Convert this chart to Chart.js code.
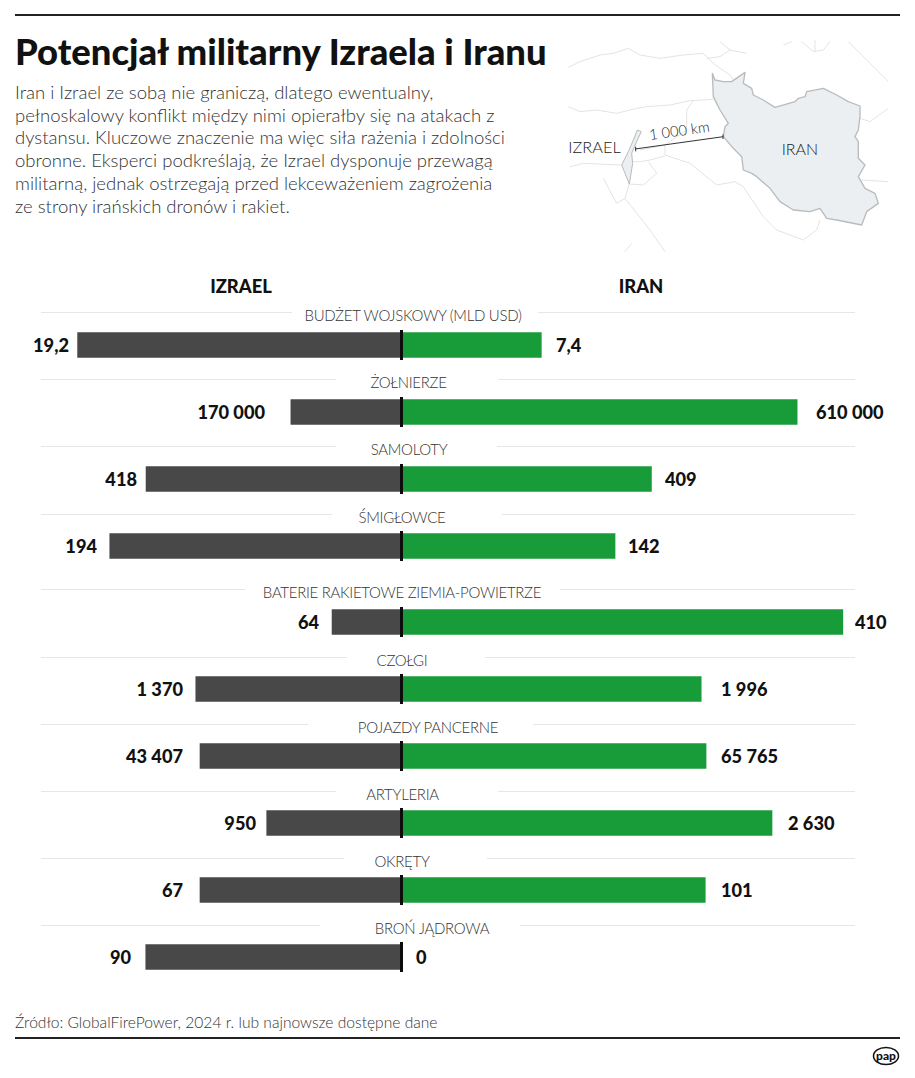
<!DOCTYPE html>
<html lang="pl">
<head>
<meta charset="utf-8">
<title>Potencjał militarny Izraela i Iranu</title>
<script src="https://cdn.jsdelivr.net/npm/chart.js@4"></script>
<style>
    html, body { margin: 0; background: #fff; }
    #page { position: relative; width: 915px; height: 1078px; overflow: hidden; font-family: Lato, sans-serif; color: #333; }
    #page > * { position: absolute; white-space: nowrap; }
    .rule { height: 1px; background: #e6e6e6; }
    .black-rule { left: 15px; width: 885px; height: 2px; background: #222; }
    #title { left: 15px; top: 30px; font-size: 36.4px; line-height: 42px; font-weight: 900; color: #111; }
    #lead { left: 15px; top: 81px; font-size: 18.5px; line-height: 22.7px; font-weight: 300; }
    .column { top: 274px; font-size: 18.4px; line-height: 24px; font-weight: 900; color: #111; transform: translateX(-50%); }
    .cat { font-size: 15px; line-height: 20px; font-weight: 300; letter-spacing: -0.3px; transform: translateX(-50%); }
    .val { font-size: 18.2px; line-height: 24px; font-weight: 900; color: #111; }
    #source { left: 15px; top: 1012px; font-size: 15.6px; line-height: 20px; font-weight: 300; }
    canvas { position: absolute; left: 0; }
    svg { position: absolute; }
</style>
</head>
<body>
<div id="page">
    <div class="black-rule" style="top:14px"></div>
    <div id="title">Potencjał militarny Izraela i Iranu</div>
    <div id="lead">Iran i Izrael ze sobą nie graniczą, dlatego ewentualny,<br>pełnoskalowy konflikt między nimi opierałby się na atakach z<br>dystansu. Kluczowe znaczenie ma więc siła rażenia i zdolności<br>obronne. Eksperci podkreślają, że Izrael dysponuje przewagą<br>militarną, jednak ostrzegają przed lekceważeniem zagrożenia<br>ze strony irańskich dronów i rakiet.</div>

    <!-- mapa -->
    <svg style="left:550px;top:30px" width="365" height="230" viewBox="0 0 1095 690" fill="none" font-family="Lato, sans-serif" font-weight="300">
        <g stroke="#dcdfdf" stroke-width="2.5" stroke-linejoin="round">
            <polyline points="55,112 90,95 150,75 190,70 235,55 270,75 330,85 400,75 460,70 490,100 510,115 540,135 550,150"/>
            <polyline points="510,35 540,60 510,80 470,85"/>
            <polyline points="540,60 590,70"/>
            <polyline points="55,230 90,245 140,240 200,250 260,235 290,230 360,225 420,212 490,208"/>
            <polyline points="430,212 410,240 410,300 345,345 270,360"/>
            <polyline points="345,345 345,375 420,400 500,465 555,455 580,470 640,560 680,600 760,630 800,600 810,570"/>
            <polyline points="60,410 100,400 215,405"/>
            <polyline points="240,395 270,395 300,390 345,378"/>
            <polyline points="295,395 320,430 280,465 238,462"/>
            <polyline points="160,445 200,520 225,505 238,462"/>
            <polyline points="225,505 300,600 345,665"/>
            <polyline points="225,665 245,640"/>
            <polyline points="895,35 950,90 1015,155"/>
            <polyline points="700,45 725,35"/>
            <polyline points="755,35 790,65 820,60 840,35"/>
            <polyline points="795,30 795,65"/>
            <polyline points="930,265 960,275 1015,235"/>
            <polyline points="935,450 1015,455"/>
        </g>
        <polygon fill="#ebeff1" stroke="#b9bcbd" stroke-width="4" stroke-linejoin="round" points="487,130 495,150 520,155 545,155 585,127 580,160 605,175 610,195 640,210 675,232 735,215 745,205 765,200 770,185 820,175 860,195 895,215 930,228 930,260 925,300 915,320 925,335 925,385 945,405 925,440 945,475 975,490 985,520 950,545 935,585 860,570 830,565 810,535 780,545 730,540 690,515 660,475 620,440 605,430 580,420 575,380 550,355 520,320 525,290 535,280 510,240 500,220 490,200"/>
        <polygon fill="#ebeff1" stroke="#b9bcbd" stroke-width="3" stroke-linejoin="round" points="262,300 250,330 235,365 215,405 238,462 248,400 245,370 262,330 274,305"/>
        <polyline points="255,357 520,320" stroke="#333" stroke-width="3"/>
        <polyline points="257,350 257,364" stroke="#333" stroke-width="3"/>
        <polyline points="519,313 519,327" stroke="#333" stroke-width="3"/>
        <text x="55" y="370" font-size="49" fill="#222">IZRAEL</text>
        <text x="695" y="374" font-size="48" fill="#222">IRAN</text>
        <text x="300" y="330" font-size="44" fill="#222" transform="rotate(-8 300 330)">1 000 km</text>
    </svg>

    <div class="column" style="left:241px">IZRAEL</div>
    <div class="column" style="left:641px">IRAN</div>

    <div id="source">Źródło: GlobalFirePower, 2024 r. lub najnowsze dostępne dane</div>
    <div class="black-rule" style="top:1037px"></div>

    <svg style="left:872px;top:1046px" width="28" height="20" viewBox="0 0 28 20">
        <ellipse cx="14" cy="10" rx="12.5" ry="8.5" fill="#fff" stroke="#111" stroke-width="1.5"/>
        <text x="14" y="14" text-anchor="middle" font-family="Lato, sans-serif" font-size="12" font-weight="900" fill="#111">pap</text>
    </svg>
</div>

<script>
// dane z grafiki
const categories = ["BUDŻET WOJSKOWY (MLD USD)", "ŻOŁNIERZE", "SAMOLOTY", "ŚMIGŁOWCE", "BATERIE RAKIETOWE ZIEMIA-POWIETRZE", "CZOŁGI", "POJAZDY PANCERNE", "ARTYLERIA", "OKRĘTY", "BROŃ JĄDROWA"];
const izrael = [19.2, 170000, 418, 194, 64, 1370, 43407, 950, 67, 90];
const iran = [7.4, 610000, 409, 142, 410, 1996, 65765, 2630, 101, 0];

// kazdy wiersz ma wlasna skale: wartosc, ktora siegalaby od srodka do lewej krawedzi
const izraelAxisMax = [23.8, 617000, 657, 267, 370, 2674, 86500, 2830, 133.5, 141.3];
const iranAxisMax = [21.25, 619000, 657, 267, 373, 2674, 86700, 2850, 133.5, 141.3];

// uklad wierszy
const barCenters = [345, 412, 479, 546, 622, 689, 756, 823, 890, 957];
const ruleY = [312, 379, 446, 514, 589, 657, 724, 791, 858, 925];
const ruleLeftEnd = [292, 336, 336, 332, 245, 347, 308, 336, 344, 320];
const ruleRightStart = [538, 498, 497, 502, 560, 485, 533, 498, 487, 520];
const catCenters = [413, 408.5, 409, 402, 402, 402, 428, 402.5, 402, 432];
const izraelLabelRight = [69, 265, 137, 97, 319, 183, 183, 256, 183, 131];
const iranLabelLeft = [556, 816, 665, 628, 855, 721, 721, 788, 721, 416];

const CENTER = 401.5;
const WIDTH = 915;
const ROW_H = 30;
const overflow = (WIDTH - CENTER) / CENTER;

const page = document.getElementById("page");

function addEl(className, text, styles) {
    let el = document.createElement("div");
    el.className = className;
    el.textContent = text;
    Object.assign(el.style, styles);
    page.appendChild(el);
    return el;
}

// 19.2 -> 19,2  1370 -> 1 370
function fmt(v) {
    return String(v).replace(".", ",").replace(/\B(?=(\d{3})+$)/g, " ");
}

categories.forEach((cat, i) => {
    addEl("rule", "", { top: ruleY[i] + "px", left: "41px", width: (ruleLeftEnd[i] - 41) + "px" });
    addEl("rule", "", { top: ruleY[i] + "px", left: ruleRightStart[i] + "px", width: (855 - ruleRightStart[i]) + "px" });
    addEl("cat", cat, { top: (ruleY[i] - 7) + "px", left: catCenters[i] + "px" });
    addEl("val", fmt(izrael[i]), { top: (barCenters[i] - 12) + "px", right: (WIDTH - izraelLabelRight[i]) + "px" });
    addEl("val", fmt(iran[i]), { top: (barCenters[i] - 12) + "px", left: iranLabelLeft[i] + "px" });

    let canvas = document.createElement("canvas");
    canvas.width = WIDTH;
    canvas.height = ROW_H;
    canvas.style.top = (barCenters[i] - ROW_H / 2) + "px";
    page.appendChild(canvas);

    new Chart(canvas, {
        type: "bar",
        data: {
            labels: [cat],
            datasets: [
                { label: "Izrael", data: [-izrael[i]], xAxisID: "xIzrael", backgroundColor: "#484848", barThickness: 25, grouped: false },
                { label: "Iran", data: [iran[i]], xAxisID: "xIran", backgroundColor: "#189c3a", barThickness: 25, grouped: false },
            ],
        },
        options: {
            indexAxis: "y",
            responsive: false,
            animation: false,
            layout: { padding: 0 },
            plugins: { legend: { display: false }, title: { display: false }, tooltip: { enabled: false } },
            scales: {
                y: { display: false },
                xIzrael: { axis: "x", display: false, min: -izraelAxisMax[i], max: izraelAxisMax[i] * overflow },
                // czarna kreska srodkowa to linia siatki w zerze
                xIran: {
                    axis: "x",
                    min: -iranAxisMax[i],
                    max: iranAxisMax[i] * overflow,
                    afterBuildTicks: (axis) => { axis.ticks = [{ value: 0 }]; },
                    ticks: { display: false },
                    border: { display: false },
                    grid: { color: "#0c0c0c", lineWidth: 3, drawTicks: false, z: 1 },
                },
            },
        },
    });
});
</script>
</body>
</html>
